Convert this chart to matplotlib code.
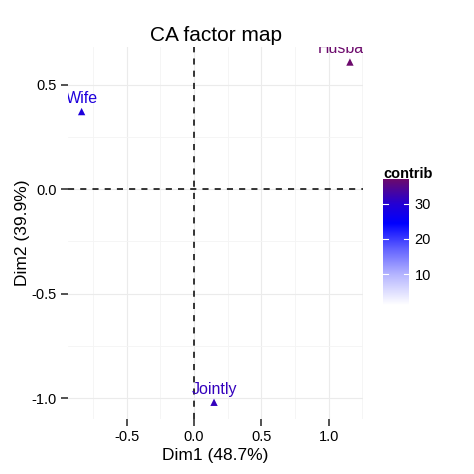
import matplotlib
matplotlib.use("Agg")
import matplotlib.pyplot as plt
import numpy as np
from matplotlib.colors import LinearSegmentedColormap, Normalize
from matplotlib.ticker import MultipleLocator

labels = ["Wife", "Husband", "Jointly"]
dim1 = [-0.834, 1.158, 0.149]
dim2 = [0.371, 0.608, -1.020]
contrib = [29.0, 37.0, 31.5]
cmin, cmax = 1.3, 37.0
cbar_ticks = [10, 20, 30]

plt.rcParams['font.family'] = ['Liberation Sans', 'DejaVu Sans']
plt.rcParams['axes.unicode_minus'] = False

stops = [(1.3, "#ffffff"), (10, "#b4b4ff"), (17, "#6464ff"), (24.5, "#0000ff"),
         (30, "#2400d4"), (37, "#6c0a6c")]
cmap = LinearSegmentedColormap.from_list(
    "contrib", [((v - cmin) / (cmax - cmin), c) for v, c in stops])
norm = Normalize(cmin, cmax)

fig = plt.figure(figsize=(4.74, 4.74), dpi=100)
ax = fig.add_axes([68/474, 1-419/474, (363-68)/474, (419-47)/474])
ax.set_xlim(-0.935, 1.255)
ax.set_ylim(-1.10, 0.68)

ax.xaxis.set_major_locator(MultipleLocator(0.5))
ax.yaxis.set_major_locator(MultipleLocator(0.5))
ax.xaxis.set_minor_locator(MultipleLocator(0.25))
ax.yaxis.set_minor_locator(MultipleLocator(0.25))
ax.grid(which='major', color='#ebebeb', linewidth=0.8)
ax.grid(which='minor', color='#f4f4f4', linewidth=0.6)
ax.tick_params(which='minor', length=0)
ax.tick_params(which='major', length=5, width=1.2, color='#333333',
               labelsize=10.5, labelcolor='black', pad=3)
for s in ax.spines.values():
    s.set_visible(False)
ax.set_axisbelow(True)

ax.axhline(0, color='black', linestyle=(0, (4, 4)), linewidth=1.1)
ax.axvline(0, color='black', linestyle=(0, (4, 4)), linewidth=1.1)

cols = cmap(norm(np.array(contrib)))
ax.scatter(dim1, dim2, marker='^', s=28, c=cols, zorder=3, linewidths=0)
for x, y, lab, c in zip(dim1, dim2, labels, cols):
    t = ax.annotate(lab, (x, y), xytext=(0, 4), textcoords='offset points',
                    ha='center', va='bottom', color=c, fontsize=11.5, zorder=4,
                    annotation_clip=False)
    t.set_clip_box(ax.bbox)
    t.set_clip_on(True)

ax.set_title("CA factor map", fontsize=15, pad=4)
ax.set_xlabel("Dim1 (48.7%)", fontsize=12.5, labelpad=3)
ax.set_ylabel("Dim2 (39.9%)", fontsize=12.5, labelpad=1)

cax = fig.add_axes([383/474, 1-305/474, 26/474, 126/474])
grad = np.linspace(cmin, cmax, 256).reshape(-1, 1)
cax.imshow(grad, aspect='auto', cmap=cmap, norm=norm, origin='lower',
           extent=[0, 1, cmin, cmax])
cax.set_xlim(0, 1)
cax.set_ylim(cmin, cmax)
cax.set_xticks([])
cax.yaxis.tick_right()
cax.set_yticks(cbar_ticks)
cax.tick_params(axis='y', length=0, labelsize=10.5, pad=4)
for v in cbar_ticks:
    cax.plot([0, 0.2], [v, v], color='white', lw=0.8)
    cax.plot([0.8, 1], [v, v], color='white', lw=0.8)
for s in cax.spines.values():
    s.set_visible(False)
fig.text(383/474, 1-181/474, "contrib", fontsize=10.5, fontweight='bold',
         ha='left', va='bottom')

fig.savefig("out.png", dpi=100, facecolor='white')
